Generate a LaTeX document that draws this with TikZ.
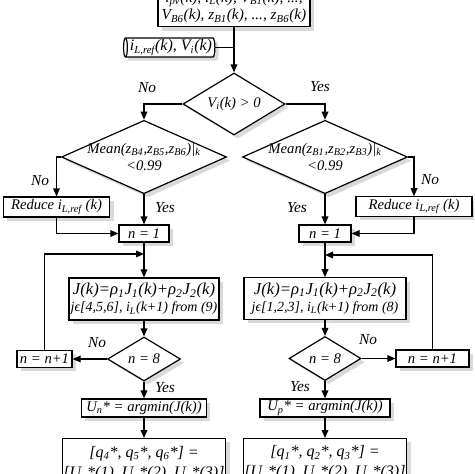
\documentclass[tikz,border=0pt]{standalone}
\usepackage{fontspec}
\setmainfont{Liberation Serif}
\usetikzlibrary{arrows.meta,positioning,shapes.geometric,shadows,calc}

\begin{document}
\begin{tikzpicture}[x=0.75pt,y=-0.75pt,line width=0.9pt,
  boxshadow/.style={drop shadow={shadow xshift=2.8pt,shadow yshift=-2.8pt,fill=black!15,draw=none,opacity=1}},
  block/.style={draw,fill=white,boxshadow,font=\itshape\fontsize{11}{13}\selectfont,inner sep=1pt,align=center},
  decision/.style={draw,fill=white,boxshadow,diamond,inner sep=0pt},
  dtext/.style={font=\itshape\fontsize{11}{13}\selectfont,align=center},
  flow/.style={-{Triangle[length=6pt,width=5pt]}},
  tag/.style={font=\itshape\fontsize{11.5}{13}\selectfont}]
  \clip (0,0) rectangle (474,474);

  \node[block,minimum width=114pt,minimum height=29pt,font=\itshape\fontsize{11.5}{13}\selectfont] (meas) at (234,7.5)
    {i\textsubscript{pv}(k), i\textsubscript{L}(k), V\textsubscript{B1}(k), ...,\\
     V\textsubscript{B6}(k), z\textsubscript{B1}(k), ..., z\textsubscript{B6}(k)};
  \node[draw,fill=white,boxshadow,cylinder,shape border rotate=180,aspect=0.2,
    inner xsep=1.5pt,inner ysep=1.2pt,font=\itshape\fontsize{12}{13}\selectfont] (inp) at (171,47.5)
    {i\textsubscript{L,ref}(k), V\textsubscript{i}(k)};

  \node[decision,minimum width=76.5pt,minimum height=46.5pt,
    label={[dtext]center:V\textsubscript{i}(k) > 0}] (dV) at (234,104) {};
  \node[decision,minimum width=123.75pt,minimum height=55pt,
    label={[dtext]center:Mean(z\textsubscript{B4},z\textsubscript{B5},z\textsubscript{B6})|\textsubscript{k}\\<0.99}] (dL) at (144,157) {};
  \node[decision,minimum width=123.75pt,minimum height=55pt,
    label={[dtext]center:Mean(z\textsubscript{B1},z\textsubscript{B2},z\textsubscript{B3})|\textsubscript{k}\\<0.99}] (dR) at (325,157) {};

  \node[block,minimum width=80pt,minimum height=15pt] (redL) at (56.5,207) {Reduce i\textsubscript{L,ref} (k)};
  \node[block,minimum width=87pt,minimum height=14.5pt] (redR) at (414,206.5) {Reduce i\textsubscript{L,ref} (k)};
  \node[block,minimum width=37.5pt,minimum height=12.75pt] (n1L) at (144,233.5) {n = 1};
  \node[block,minimum width=39pt,minimum height=12.75pt] (n1R) at (325,233.5) {n = 1};

  \node[block,minimum width=112.5pt,minimum height=31.5pt] (JL) at (144,299)
    {{\fontsize{12.5}{14}\selectfont J(k)=ρ\textsubscript{1}J\textsubscript{1}(k)+ρ\textsubscript{2}J\textsubscript{2}(k)}\\
     {\fontsize{10.5}{12}\selectfont jϵ[4,5,6], i\textsubscript{L}(k+1) from (9)}};
  \node[block,minimum width=121.5pt,minimum height=31pt] (JR) at (325,298.5)
    {{\fontsize{12.5}{14}\selectfont J(k)=ρ\textsubscript{1}J\textsubscript{1}(k)+ρ\textsubscript{2}J\textsubscript{2}(k)}\\
     {\fontsize{10.5}{12}\selectfont jϵ[1,2,3], i\textsubscript{L}(k+1) from (8)}};

  \node[decision,minimum width=54.75pt,minimum height=33pt,label={[dtext]center:n = 8}] (d8L) at (144,359) {};
  \node[decision,minimum width=54pt,minimum height=33pt,label={[dtext]center:n = 8}] (d8R) at (325,358.5) {};
  \node[block,minimum width=41.25pt,minimum height=12.75pt] (incL) at (44.5,359) {n = n+1};
  \node[block,minimum width=54.75pt,minimum height=12.75pt] (incR) at (432.5,358.5) {n = n+1};

  \node[block,minimum width=93.75pt,minimum height=13.5pt] (UL) at (144,408) {U\textsubscript{n}* = argmin(J(k))};
  \node[block,minimum width=97.5pt,minimum height=13.5pt] (UR) at (325,408) {U\textsubscript{p}* = argmin(J(k))};
  \node[block,anchor=north,minimum width=104.25pt,minimum height=37.5pt,font=\itshape\fontsize{12}{15}\selectfont] (qL) at (144,438)
    {[q\textsubscript{4}*, q\textsubscript{5}*, q\textsubscript{6}*] =\\{}[U\textsubscript{n}*(1), U\textsubscript{n}*(2), U\textsubscript{n}*(3)]};
  \node[block,anchor=north,minimum width=108.75pt,minimum height=37.5pt,font=\itshape\fontsize{12}{15}\selectfont] (qR) at (325,438)
    {[q\textsubscript{1}*, q\textsubscript{2}*, q\textsubscript{3}*] =\\{}[U\textsubscript{p}*(1), U\textsubscript{p}*(2), U\textsubscript{p}*(3)]};

  \node[tag] (noV) at (147,88) {No};
  \node[tag] (yesV) at (320,87) {Yes};
  \node[tag] (noL) at (40,181) {No};
  \node[tag] (yesL) at (165,208) {Yes};
  \node[tag] (noR) at (430,180) {No};
  \node[tag] (yesR) at (297,208) {Yes};
  \node[tag] (no8L) at (97,343) {No};
  \node[tag] (yes8L) at (165,388) {Yes};
  \node[tag] (no8R) at (368,340) {No};
  \node[tag] (yes8R) at (300,387) {Yes};

  \coordinate (mL) at (144,254);
  \coordinate (mR) at (325,255);
  \draw[flow] (meas.south) -- (dV.north);
  \draw (inp.east) -- (inp.east -| meas.south);
  \draw[flow] (dV.west) -| (dL.north);
  \draw[flow] (dV.east) -| (dR.north);
  \draw[flow] (dL.west) -| (redL.north);
  \draw[flow] (dL.south) -- (n1L.north);
  \draw[flow] (redL.south) |- (n1L.west);
  \draw[flow] (dR.east) -| (redR.north);
  \draw[flow] (dR.south) -- (n1R.north);
  \draw[flow] (redR.south) |- (n1R.east);
  \draw[flow] (n1L.south) -- (JL.north);
  \draw[flow] (n1R.south) -- (JR.north);
  \draw[flow] (JL.south) -- (d8L.north);
  \draw[flow] (JR.south) -- (d8R.north);
  \draw[flow] (d8L.west) -- (incL.east);
  \draw[flow] (d8R.east) -- (incR.west);
  \draw[flow] (incL.north) |- (mL);
  \draw[flow] (incR.north) |- (mR);
  \draw[flow] (d8L.south) -- (UL.north);
  \draw[flow] (d8R.south) -- (UR.north);
  \draw[flow] (UL.south) -- (qL.north);
  \draw[flow] (UR.south) -- (qR.north);
\end{tikzpicture}
\end{document}
